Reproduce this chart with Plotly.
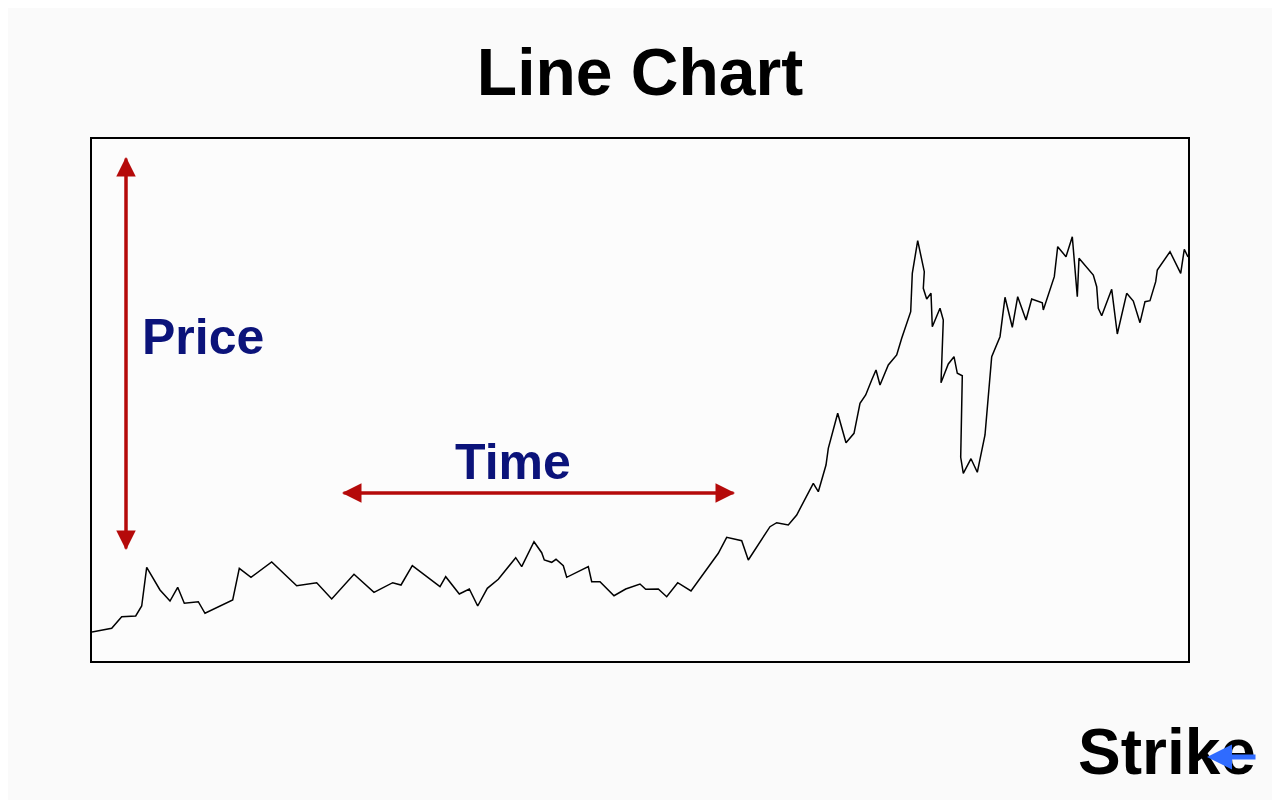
import plotly.graph_objects as go

# Time axis (arbitrary units) and price values
time = [
    0, 19.7, 29.7, 43.7, 49.7, 54.7, 68, 78, 85.7, 92.3,
    106.3, 113, 140.7, 147.3, 159, 179.7, 204.7, 224.7, 239.7, 262,
    282, 300.7, 309, 320.3, 348, 353.7, 367.3, 377.3, 385.7, 395.3,
    406.3, 423.7, 429.7, 442, 449.7, 452.3, 459.7, 464, 471.3, 474.7,
    496.3, 499.7, 508, 522, 533.7, 548, 553.7, 566.3, 574.7, 585.7,
    599, 626.3, 634.7, 649.7, 656.3, 678, 684.7, 696.3, 704.7, 721.3,
    726.3, 734, 736.3, 745.7, 754, 762, 768, 773.7, 779.7, 784,
    788, 796.3, 804.7, 809.7, 818.7, 820.3, 825.7, 832.3, 831.3, 834.7,
    839, 840.3, 848, 851.3, 849, 856.3, 862, 865.3, 870.3, 868.7,
    871.3, 879, 885.3, 893, 899.7, 908, 913, 920.3, 925.7, 934,
    939.7, 950.3, 951.3, 962.3, 965.7, 974, 980.3, 985.3, 987, 1001.3,
    1004.7, 1006.3, 1009.7, 1019.7, 1025.3, 1034.7, 1041.3, 1048, 1053, 1058,
    1063.7, 1065.3, 1078, 1088.7, 1092.3, 1096,
]
price = [
    29, 32.7, 44.3, 45, 55, 93.7, 71, 60, 73.7, 57.7,
    59.3, 47.7, 61, 92.7, 83.7, 99, 75.3, 78.3, 62, 86.7,
    68.7, 78.3, 76, 95.3, 74.3, 84.3, 67, 72, 55, 72.7,
    81.7, 103.3, 94.3, 119.3, 108.3, 101, 98.7, 101.7, 95.3, 83.7,
    94.3, 79.3, 79.3, 65.3, 72, 77, 71.7, 72, 64.3, 78.3,
    70, 107.7, 123.7, 120.3, 101, 134.3, 138.3, 136, 146, 177.7,
    169.3, 196, 212.7, 247.7, 218.3, 227.7, 257.7, 266, 281, 291,
    276, 296, 306, 322.7, 349.3, 387.7, 420.3, 389.3, 372.7, 362,
    367.7, 334.3, 352.7, 341, 278.3, 297, 304.3, 287.7, 285.3, 203.7,
    187.7, 202.3, 188.7, 226, 304.3, 324.3, 363.7, 333.7, 364.3, 341,
    362, 358.3, 351, 384.3, 414.3, 404.3, 424.3, 364.3, 402.7, 386,
    374.3, 352.7, 345.3, 371.7, 327, 367.7, 360, 338.3, 359.3, 360.3,
    379.3, 391, 409.3, 387.7, 411.7, 404,
]
assert len(time) == len(price)

title_text = "Line Chart"
price_label = "Price"
time_label = "Time"
brand = "Strike"

RED = "#b50a0a"
NAVY = "#0b137a"
FONT = "Liberation Sans"

# page body margin offset (browser default 8px)
OFF = 8
W, H = 1280 - OFF, 800 - OFF
L, T = 92 - OFF, 139 - OFF
R = W - (1188 - OFF)
B = H - (661 - OFF)
pw, ph = W - L - R, H - T - B


def px_x(x):
    return (x - 92) / pw


def px_y(y):
    return (661 - y) / ph


fig = go.Figure()
fig.add_trace(go.Scatter(
    x=time, y=price, mode="lines",
    line=dict(color="black", width=1.5),
    hoverinfo="skip", showlegend=False,
))

annotations = []
# Vertical double arrow (Price)
for end, start in ((504, 111), (111, 504)):
    annotations.append(dict(
        x=34, y=end, ax=34, ay=start, xref="x", yref="y", axref="x", ayref="y",
        text="", showarrow=True, arrowhead=2, arrowsize=1.3, arrowwidth=3,
        arrowcolor=RED,
    ))
# Horizontal double arrow (Time)
for end, start in ((250, 643), (643, 250)):
    annotations.append(dict(
        x=end, y=168, ax=start, ay=168, xref="x", yref="y", axref="x", ayref="y",
        text="", showarrow=True, arrowhead=2, arrowsize=1.3, arrowwidth=3,
        arrowcolor=RED,
    ))
annotations.append(dict(
    x=48, y=324, xref="x", yref="y", xanchor="left", yanchor="middle",
    text=f"<b>{price_label}</b>", showarrow=False,
    font=dict(family=FONT, size=50, color=NAVY),
))
annotations.append(dict(
    x=421, y=199, xref="x", yref="y", xanchor="center", yanchor="middle",
    text=f"<b>{time_label}</b>", showarrow=False,
    font=dict(family=FONT, size=50, color=NAVY),
))

# Brand
annotations.append(dict(
    x=px_x(1258), y=px_y(752), xref="paper", yref="paper",
    xanchor="right", yanchor="middle",
    text=f"<b>{brand}</b>", showarrow=False,
    font=dict(family=FONT, size=64, color="black"),
))
# Blue arrow accent in the logo
annotations.append(dict(
    x=px_x(1207), y=px_y(757), ax=50, ay=0,
    xref="paper", yref="paper", axref="pixel", ayref="pixel",
    text="", showarrow=True, arrowhead=2, arrowsize=1.0, arrowwidth=5,
    arrowcolor="#2f6bff",
))

fig.update_layout(
    width=W, height=H,
    margin=dict(l=L, r=R, t=T, b=B),
    paper_bgcolor="#fafafa", plot_bgcolor="#fcfcfc",
    title=dict(
        text=f"<b>{title_text}</b>", x=(640 - OFF) / W, xanchor="center",
        y=1 - (72 - OFF) / H, yanchor="middle", yref="container",
        font=dict(family=FONT, size=66, color="black"),
    ),
    xaxis=dict(range=[0, 1096], showgrid=False, zeroline=False,
               showticklabels=False, ticks="", showline=True, mirror=True,
               linecolor="black", linewidth=1.5, fixedrange=True),
    yaxis=dict(range=[0, 522], showgrid=False, zeroline=False,
               showticklabels=False, ticks="", showline=True, mirror=True,
               linecolor="black", linewidth=1.5, fixedrange=True),
    annotations=annotations,
)

fig.write_html("out.html")
